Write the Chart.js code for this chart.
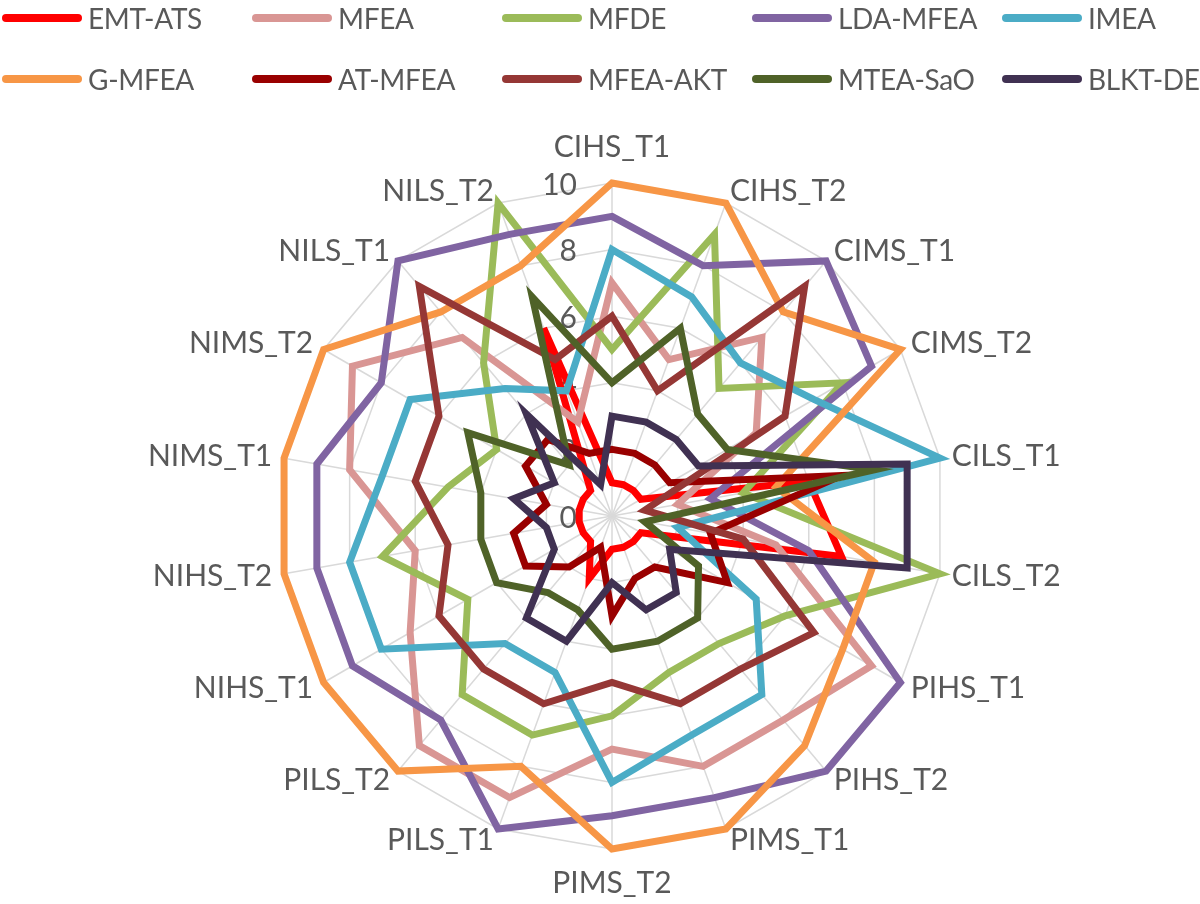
<!DOCTYPE html>
<html>
<head>
<meta charset="utf-8">
<script src="https://cdn.jsdelivr.net/npm/chart.js@4.4.1/dist/chart.umd.min.js"></script>
<style>
  html, body { margin: 0; padding: 0; background: #fff; }
  #wrap { position: relative; width: 1200px; height: 904px; overflow: hidden; }
  #radar { position: absolute; left: 0; top: 0; }
  #legend { position: absolute; left: 0; top: 0; width: 1200px; height: 110px;
            font-family: Lato, 'Open Sans', sans-serif; font-size: 28px; color: #595959;
            letter-spacing: -0.3px; }
  .item { position: absolute; height: 36px; display: flex; align-items: center; white-space: nowrap; }
  .swatch { width: 80px; height: 8px; border-radius: 4px; margin-right: 6px; }
</style>
</head>
<body>
<div id="wrap">
  <canvas id="radar" width="1200" height="904"></canvas>
  <div id="legend"></div>
</div>
<script>
// categories (clockwise from the top)
const categories = ['CIHS_T1', 'CIHS_T2', 'CIMS_T1', 'CIMS_T2', 'CILS_T1', 'CILS_T2',
                    'PIHS_T1', 'PIHS_T2', 'PIMS_T1', 'PIMS_T2', 'PILS_T1', 'PILS_T2',
                    'NIHS_T1', 'NIHS_T2', 'NIMS_T1', 'NIMS_T2', 'NILS_T1', 'NILS_T2'];

const tickValues = [0, 2, 4, 6, 8, 10];
const tickLabels = ['0', '2', '4', '6', '8', '10'];

// one rank per category for each algorithm
const emtAts  = [1, 1, 1, 1, 6, 7, 1, 1, 1, 1, 2, 1, 1, 1, 1, 1, 1, 6];
const mfea    = [7, 5, 7, 5, 2, 5, 9, 8, 8, 7, 9, 9, 7, 6, 8, 9, 7, 3];
const mfde    = [5, 9, 5, 8, 4, 10, 6, 5, 5, 6, 7, 7, 5, 7, 5, 4, 6, 10];
const ldaMfea = [9, 8, 10, 9, 3, 6, 10, 10, 9, 9, 10, 8, 9, 9, 9, 8, 10, 9];
const imea    = [8, 7, 6, 7, 10, 2, 5, 7, 7, 8, 5, 5, 8, 8, 7, 7, 5, 4];
const gMfea   = [10, 10, 8, 10, 5, 8, 8, 9, 10, 10, 8, 10, 10, 10, 10, 10, 8, 8];
const atMfea  = [2, 2, 2, 2, 7, 3, 4, 2, 2, 3, 1, 2, 3, 3, 2, 3, 3, 2];
const mfeaAkt = [6, 4, 9, 6, 1, 4, 7, 6, 6, 5, 6, 6, 6, 5, 6, 6, 9, 5];
const mteaSao = [4, 6, 4, 4, 8, 1, 3, 4, 4, 4, 3, 3, 4, 4, 4, 5, 2, 7];
const blktDe  = [3, 3, 3, 3, 9, 9, 2, 3, 3, 2, 4, 4, 2, 2, 3, 2, 4, 1];

const seriesNames  = ['EMT-ATS', 'MFEA', 'MFDE', 'LDA-MFEA', 'IMEA',
                      'G-MFEA', 'AT-MFEA', 'MFEA-AKT', 'MTEA-SaO', 'BLKT-DE'];
const seriesValues = [emtAts, mfea, mfde, ldaMfea, imea, gMfea, atMfea, mfeaAkt, mteaSao, blktDe];
const seriesColors = ['#FF0000', '#D99694', '#9BBB59', '#8064A2', '#4BACC6',
                      '#F79646', '#990000', '#953735', '#4F6228', '#403152'];

const textColor = '#595959';
const labelFont = '30px Lato, "Open Sans", sans-serif';

// legend: two rows of five
const legendEl = document.getElementById('legend');
seriesNames.forEach(function(name, i) {
    const item = document.createElement('div');
    item.className = 'item';
    item.style.left = (2 + (i % 5) * 250) + 'px';
    item.style.top = (i < 5 ? 0 : 61) + 'px';
    const sw = document.createElement('span');
    sw.className = 'swatch';
    sw.style.background = seriesColors[i];
    const tx = document.createElement('span');
    tx.textContent = name;
    item.appendChild(sw);
    item.appendChild(tx);
    legendEl.appendChild(item);
});

// axis numbers and category names, drawn under the lines
const radarText = {
    id: 'radarText',
    beforeDatasetsDraw(chart) {
        const scale = chart.scales.r;
        const ctx = chart.ctx;
        ctx.save();
        ctx.font = labelFont;
        ctx.fillStyle = textColor;

        ctx.textAlign = 'right';
        ctx.textBaseline = 'middle';
        tickValues.forEach(function(v, i) {
            const p = scale.getPointPositionForValue(0, v);
            ctx.fillText(tickLabels[i], p.x - 35, p.y + 2);
        });

        const n = categories.length;
        categories.forEach(function(label, i) {
            const p = scale.getPointPosition(i, scale.drawingArea + 12);
            const deg = i * 360 / n;
            let y = p.y;
            if (deg === 0) {
                ctx.textAlign = 'center';
                y -= 24;
            } else if (deg === 180) {
                ctx.textAlign = 'center';
                y += 22;
            } else if (deg < 180) {
                ctx.textAlign = 'left';
            } else {
                ctx.textAlign = 'right';
            }
            ctx.fillText(label, p.x, y);
        });
        ctx.restore();
    }
};

const datasets = seriesNames.map(function(name, i) {
    return {
        label: name,
        data: seriesValues[i],
        borderColor: seriesColors[i],
        backgroundColor: seriesColors[i],
        borderWidth: 7,
        fill: false,
        pointRadius: 0,
        pointHoverRadius: 0,
        clip: false,
        order: seriesNames.length - i
    };
});

new Chart(document.getElementById('radar').getContext('2d'), {
    type: 'radar',
    data: {
        labels: categories,
        datasets: datasets
    },
    options: {
        responsive: false,
        animation: false,
        layout: {
            padding: { left: 279, top: 183, right: 255, bottom: 55 }
        },
        plugins: {
            legend: { display: false },
            tooltip: { enabled: false }
        },
        elements: {
            line: { tension: 0 }
        },
        scales: {
            r: {
                min: 0,
                max: 10,
                ticks: { display: false, stepSize: 2 },
                pointLabels: { display: false },
                grid: { color: '#D9D9D9', lineWidth: 1.5 },
                angleLines: { color: '#D9D9D9', lineWidth: 1.5 }
            }
        }
    },
    plugins: [radarText]
});
</script>
</body>
</html>
